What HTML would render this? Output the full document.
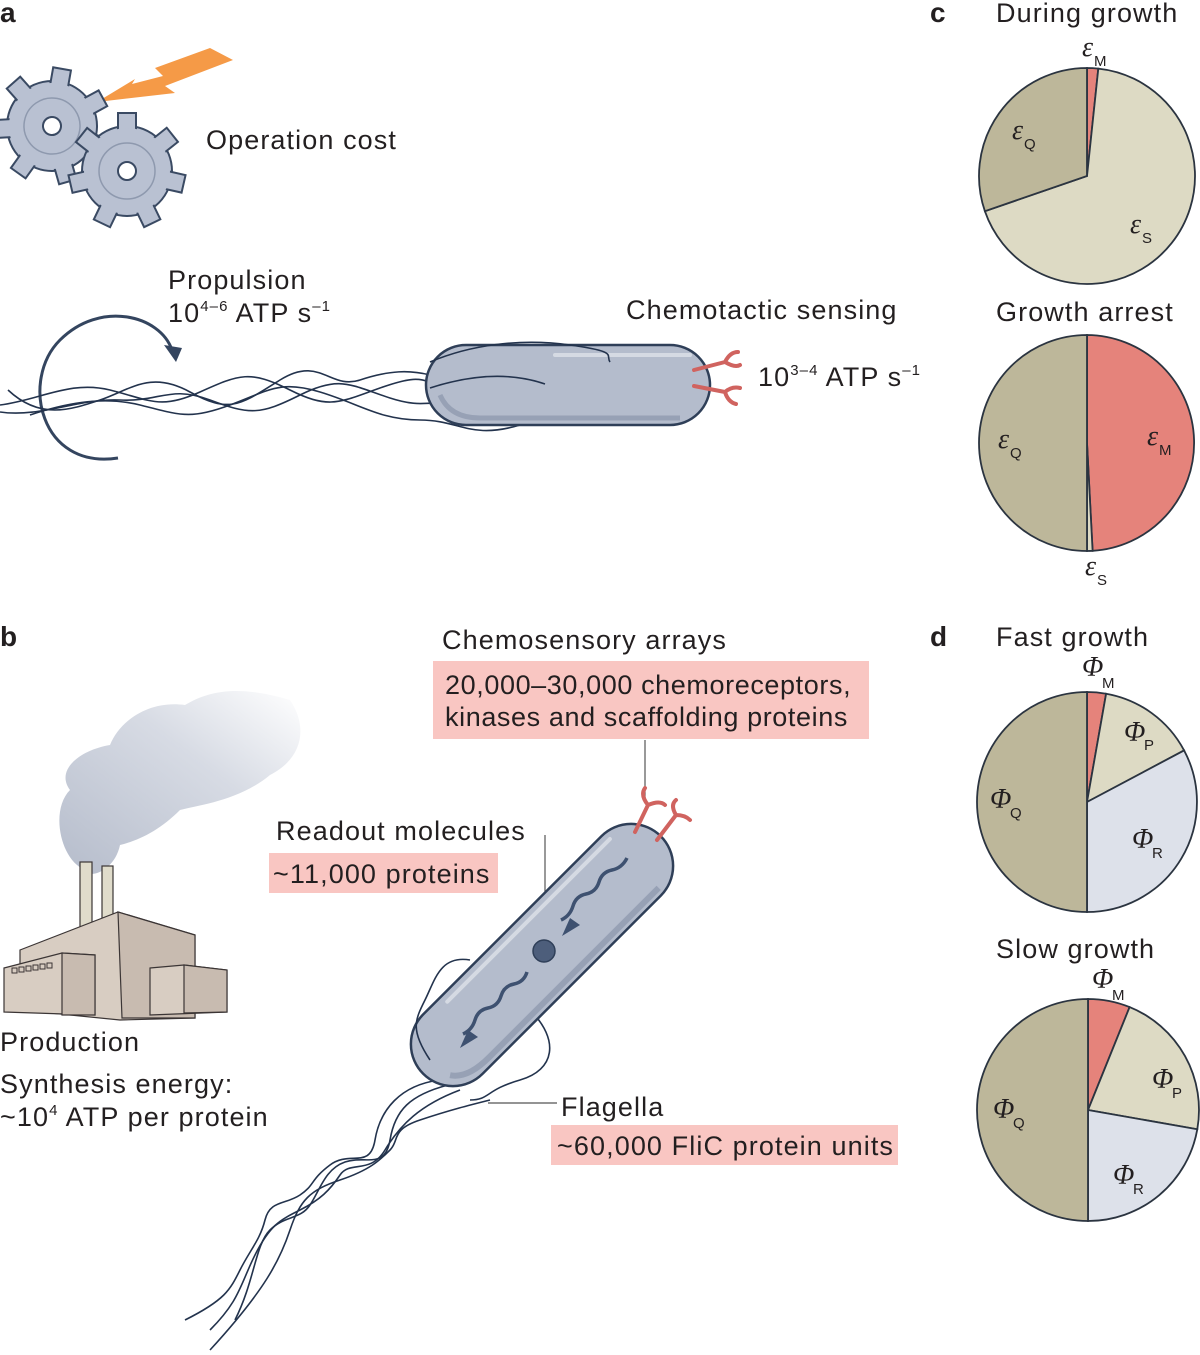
<!DOCTYPE html>
<html><head><meta charset="utf-8">
<style>
html,body{margin:0;padding:0;background:#fff;}
svg{display:block;}
text{font-family:"Liberation Sans",sans-serif;fill:#231f20;}
.lb{font-size:27px;letter-spacing:1.1px;}
.g{font-family:"Liberation Serif",serif;font-style:italic;font-size:28px;}
.s{font-size:15px;}
.h{font-size:28px;font-weight:bold;}
</style></head><body>
<svg width="1200" height="1355" viewBox="0 0 1200 1355" xmlns="http://www.w3.org/2000/svg">
<defs>
<linearGradient id="smk" x1="0" y1="1" x2="1" y2="0">
<stop offset="0" stop-color="#b5bccb"/><stop offset="0.6" stop-color="#d7dbe4"/><stop offset="1" stop-color="#ffffff"/>
</linearGradient>
<g id="gear">
<g fill="#b9c1d2" stroke="#3a4a63" stroke-width="2">
<circle r="45"/>
<rect x="-9" y="-58" width="18" height="20" transform="rotate(0)"/>
<rect x="-9" y="-58" width="18" height="20" transform="rotate(51.4)"/>
<rect x="-9" y="-58" width="18" height="20" transform="rotate(102.8)"/>
<rect x="-9" y="-58" width="18" height="20" transform="rotate(154.2)"/>
<rect x="-9" y="-58" width="18" height="20" transform="rotate(205.6)"/>
<rect x="-9" y="-58" width="18" height="20" transform="rotate(257)"/>
<rect x="-9" y="-58" width="18" height="20" transform="rotate(308.4)"/>
</g>
<circle r="43" fill="#b9c1d2"/>
<circle r="28" fill="none" stroke="#8e99ae" stroke-width="1.5"/>
<circle r="9" fill="#fff" stroke="#3a4a63" stroke-width="2"/>
</g>
</defs>

<text x="0" y="22" class="h">a</text>
<text x="0" y="646" class="h">b</text>
<text x="930" y="22" class="h">c</text>
<text x="930" y="646" class="h">d</text>

<polygon points="97,102 175,93 165,86 233,60 210,48 155,68 163,76 132,84 135,79" fill="#f59a47"/>
<use href="#gear" x="52" y="126" transform="rotate(10 52 126)"/>
<use href="#gear" x="127" y="171"/>
<text x="206" y="149" class="lb">Operation cost</text>

<text x="168" y="289" class="lb">Propulsion</text>
<text x="168" y="322" class="lb">10<tspan dy="-11" font-size="15">4–6</tspan><tspan dy="11"> ATP s</tspan><tspan dy="-11" font-size="15">–1</tspan></text>
<text x="626" y="319" class="lb">Chemotactic sensing</text>
<text x="758" y="386" class="lb">10<tspan dy="-11" font-size="15">3–4</tspan><tspan dy="11"> ATP s</tspan><tspan dy="-11" font-size="15">–1</tspan></text>

<path d="M118,458 C40,470 20,380 60,340 C100,300 160,315 172,350" fill="none" stroke="#34455f" stroke-width="3"/>
<polygon points="164,345 182,348 176,362" fill="#34455f"/>
<g fill="none" stroke="#23334d" stroke-width="1.6">
<path d="M8,390 C40,420 70,410 100,400 S150,370 190,392 S240,405 280,380 S330,390 360,380 S410,370 430,375"/>
<path d="M0,405 C40,400 70,380 110,390 S160,410 200,392 S250,370 290,390 S340,402 380,388 S420,380 440,385"/>
<path d="M0,412 C40,418 80,398 120,400 S170,385 210,400 S260,415 300,395 S350,385 390,398 S430,395 460,410"/>
<path d="M30,415 C60,405 100,395 140,405 S190,420 230,405 S280,380 320,392 S380,420 420,420 S470,440 520,425"/>
</g>
<rect x="426" y="345" width="284" height="80" rx="40" fill="#b4bccc" stroke="#2f3f58" stroke-width="2.5"/>
<path d="M440,395 Q450,418 480,418 L680,418" stroke="#97a1b5" stroke-width="5" fill="none"/>
<path d="M555,355 L690,355" stroke="#d5dae3" stroke-width="4" stroke-linecap="round"/>
<g fill="none" stroke="#23334d" stroke-width="1.6">
<path d="M430,388 C470,375 510,372 545,384"/>
<path d="M430,362 C470,345 520,338 570,345 S605,355 610,362"/>
</g>
<g fill="none" stroke="#d0635f" stroke-width="4" stroke-linecap="round">
<path d="M694,370 L725,362 M725,362 Q730,352 738,352 M725,362 Q735,368 740,365"/>
<path d="M694,386 L725,392 M725,392 Q732,386 740,388 M725,392 Q728,402 736,404"/>
</g>

<g stroke="#2b3440" stroke-width="1.8">
<path d="M1087,176 L1087,68 A108,108 0 0 1 1098.3,68.6 Z" fill="#e5837b"/>
<path d="M1087,176 L1098.3,68.6 A108,108 0 1 1 984.9,211.2 Z" fill="#dddac4"/>
<path d="M1087,176 L984.9,211.2 A108,108 0 0 1 1087,68 Z" fill="#bdb79a"/>
<path d="M1087,443 L1087,335 A108,108 0 0 1 1092.6,550.8 Z" fill="#e5837b"/>
<path d="M1087,443 L1092.6,550.8 A108,108 0 0 1 1087,551 Z" fill="#dddac4"/>
<path d="M1087,443 L1087,551 A108,108 0 0 1 1087,335 Z" fill="#bdb79a"/>
<path d="M1087,802 L1087,692 A110,110 0 0 1 1106.1,693.7 Z" fill="#e5837b"/>
<path d="M1087,802 L1106.1,693.7 A110,110 0 0 1 1184.1,750.4 Z" fill="#dddac4"/>
<path d="M1087,802 L1184.1,750.4 A110,110 0 0 1 1087,912 Z" fill="#dde1ea"/>
<path d="M1087,802 L1087,912 A110,110 0 0 1 1087,692 Z" fill="#bdb79a"/>
<path d="M1088,1110 L1088,999 A111,111 0 0 1 1129.6,1007.1 Z" fill="#e5837b"/>
<path d="M1088,1110 L1129.6,1007.1 A111,111 0 0 1 1197.3,1129.3 Z" fill="#dddac4"/>
<path d="M1088,1110 L1197.3,1129.3 A111,111 0 0 1 1088,1221 Z" fill="#dde1ea"/>
<path d="M1088,1110 L1088,1221 A111,111 0 0 1 1088,999 Z" fill="#bdb79a"/>
</g>
<text x="996" y="22" class="lb">During growth</text>
<text x="1082" y="56" class="g">ε</text><text x="1094" y="66" class="s">M</text>
<text x="1012" y="139" class="g">ε</text><text x="1024" y="149" class="s">Q</text>
<text x="1130" y="233" class="g">ε</text><text x="1142" y="243" class="s">S</text>
<text x="996" y="321" class="lb">Growth arrest</text>
<text x="998" y="448" class="g">ε</text><text x="1010" y="458" class="s">Q</text>
<text x="1147" y="445" class="g">ε</text><text x="1159" y="455" class="s">M</text>
<text x="1085" y="575" class="g">ε</text><text x="1097" y="585" class="s">S</text>
<text x="996" y="646" class="lb">Fast growth</text>
<text x="1082" y="676" class="g">Φ</text><text x="1102" y="688" class="s">M</text>
<text x="1124" y="741" class="g">Φ</text><text x="1144" y="750" class="s">P</text>
<text x="990" y="808" class="g">Φ</text><text x="1010" y="818" class="s">Q</text>
<text x="1132" y="848" class="g">Φ</text><text x="1152" y="858" class="s">R</text>
<text x="996" y="958" class="lb">Slow growth</text>
<text x="1092" y="988" class="g">Φ</text><text x="1112" y="1000" class="s">M</text>
<text x="1152" y="1088" class="g">Φ</text><text x="1172" y="1098" class="s">P</text>
<text x="993" y="1118" class="g">Φ</text><text x="1013" y="1128" class="s">Q</text>
<text x="1113" y="1184" class="g">Φ</text><text x="1133" y="1194" class="s">R</text>

<path d="M85,870 C60,860 50,810 70,790 C55,770 80,750 110,745 C120,720 150,700 185,705 C210,690 240,685 290,700 C310,730 300,760 270,775 C240,800 200,805 180,810 C160,830 140,840 120,845 C115,870 90,880 85,870 Z" fill="url(#smk)"/>
<g stroke="#3b3535" stroke-width="1.2">
<rect x="80" y="862" width="12" height="70" fill="#e0dccb"/>
<rect x="102" y="866" width="11" height="66" fill="#e0dccb"/>
<polygon points="20,950 118,912 195,935 195,1018 120,1020 20,1010" fill="#d8cdc2"/>
<polygon points="118,912 195,935 195,1018 122,1018" fill="#c8bbb0"/>
<polygon points="4,968 62,953 95,955 95,1015 4,1012" fill="#d8cdc2"/>
<polygon points="62,953 95,955 95,1015 62,1015" fill="#c8bbb0"/>
<polygon points="150,968 184,965 227,970 227,1012 150,1015" fill="#d8cdc2"/>
<polygon points="184,965 227,970 227,1012 184,1013" fill="#c8bbb0"/>
</g>
<g fill="none" stroke="#3b3535" stroke-width="1"><rect x="12" y="968" width="5" height="5"/><rect x="19" y="967" width="5" height="5"/><rect x="26" y="966" width="5" height="5"/><rect x="33" y="965" width="5" height="5"/><rect x="40" y="964" width="5" height="5"/><rect x="47" y="963" width="5" height="5"/></g>
<text x="0" y="1051" class="lb">Production</text>
<text x="0" y="1093" class="lb">Synthesis energy:</text>
<text x="0" y="1126" class="lb">~10<tspan dy="-11" font-size="15">4</tspan><tspan dy="11"> ATP per protein</tspan></text>

<text x="442" y="649" class="lb">Chemosensory arrays</text>
<rect x="433" y="661" width="436" height="78" fill="#f9c6c2"/>
<text x="445" y="694" class="lb" style="letter-spacing:0.6px">20,000–30,000 chemoreceptors,</text>
<text x="445" y="726" class="lb" style="letter-spacing:0.6px">kinases and scaffolding proteins</text>
<line x1="645" y1="740" x2="645" y2="800" stroke="#555" stroke-width="1.2"/>
<text x="276" y="840" class="lb">Readout molecules</text>
<rect x="269" y="853" width="229" height="40" fill="#f9c6c2"/>
<text x="273" y="883" class="lb">~11,000 proteins</text>
<line x1="545" y1="835" x2="545" y2="945" stroke="#555" stroke-width="1.2"/>
<text x="561" y="1116" class="lb">Flagella</text>
<line x1="488" y1="1103" x2="557" y2="1103" stroke="#555" stroke-width="1.2"/>
<rect x="551" y="1125" width="347" height="40" fill="#f9c6c2"/>
<text x="557" y="1155" class="lb">~60,000 FliC protein units</text>

<g fill="none" stroke="#23334d" stroke-width="1.6">
<path d="M440,1080 C400,1085 380,1110 375,1140 S350,1150 330,1165 S315,1185 300,1195 S270,1200 265,1220 S250,1250 240,1270 S225,1300 185,1320"/>
<path d="M448,1085 C410,1095 395,1110 390,1140 S365,1155 345,1162 S320,1190 310,1205 S285,1215 270,1230 S255,1280 235,1320"/>
<path d="M460,1090 C420,1105 400,1125 385,1150 S350,1160 340,1175 S320,1200 300,1210 S270,1225 255,1255 S240,1300 210,1330"/>
<path d="M490,1100 C470,1105 450,1110 420,1120 S400,1140 390,1150 S370,1170 340,1180 S300,1200 290,1230 S265,1290 210,1350"/>
<path d="M475,1000 C445,985 440,1000 430,1030 S420,1060 440,1080"/>
<path d="M530,1010 C560,1040 555,1070 520,1080 S490,1100 470,1100"/>
</g>
<g transform="translate(542,955) rotate(-45)">
<rect x="-168" y="-42" width="336" height="84" rx="42" fill="#b4bccc" stroke="#2f3f58" stroke-width="2.5"/>
<path d="M-150,20 Q-140,35 -110,35 L130,35" stroke="#97a1b5" stroke-width="6" fill="none"/>
<path d="M-100,-34 L130,-34" stroke="#d5dae3" stroke-width="4" stroke-linecap="round"/>
</g>
<circle cx="544" cy="951" r="11" fill="#4d5e7b" stroke="#2f3f58" stroke-width="1.5"/>
<g fill="none" stroke="#3e5170" stroke-width="3.5">
<path d="M627,858 q-5,10 -15,12 q-10,2 -13,12 q-3,10 -13,12 q-10,2 -13,12 q-3,10 -12,14"/>
<path d="M527,972 q-3,10 -13,12 q-10,2 -13,12 q-3,10 -13,12 q-10,2 -13,12 q-3,10 -12,14"/>
</g>
<polygon points="562,936 580,925 570,918" fill="#3e5170"/>
<polygon points="460,1048 478,1037 468,1030" fill="#3e5170"/>
<g fill="none" stroke="#23334d" stroke-width="1.6">
<path d="M470,960 C440,955 435,980 425,1000 S410,1030 430,1060"/>
</g>
<g fill="none" stroke="#d0635f" stroke-width="4" stroke-linecap="round">
<path d="M635,832 L648,805 M648,805 Q640,795 645,788 M648,805 Q660,800 665,805"/>
<path d="M657,840 L676,815 M676,815 Q670,805 676,800 M676,815 Q685,815 690,820"/>
</g>
</svg>
</body></html>
